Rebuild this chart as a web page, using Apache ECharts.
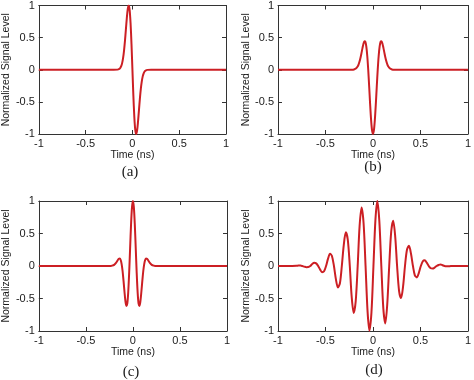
<!DOCTYPE html>
<html>
<head>
<meta charset="utf-8">
<script src="https://cdn.jsdelivr.net/npm/echarts@6/dist/echarts.min.js"></script>
<style>
html,body{margin:0;padding:0;background:#fff;}
#chart{width:474px;height:380px;}
</style>
</head>
<body>
<div id="chart"></div>
<script>
// ---- Data ----
const axisTicks = [-1, -0.5, 0, 0.5, 1];
const xTitle = 'Time (ns)';
const yTitle = 'Normalized Signal Level';
const captions = ['(a)', '(b)', '(c)', '(d)'];

// (a) monocycle
const timeA = [-1, -0.5, -0.2, -0.16, -0.14, -0.13, -0.12, -0.11, -0.10, -0.09, -0.08, -0.07, -0.06, -0.05, -0.04, -0.03, -0.02, -0.01,
  0, 0.01, 0.02, 0.03, 0.04, 0.05, 0.06, 0.07, 0.08, 0.09, 0.10, 0.11, 0.12, 0.13, 0.14, 0.16, 0.2, 0.5, 1];
const signalA = [0, 0, 0, 0.002, 0.013, 0.027, 0.055, 0.103, 0.181, 0.295, 0.446, 0.624, 0.803, 0.944, 1, 0.933, 0.727, 0.400,
  0, -0.400, -0.727, -0.933, -1, -0.944, -0.803, -0.624, -0.446, -0.295, -0.181, -0.103, -0.055, -0.027, -0.013, -0.002, 0, 0, 0];

// (b) doublet
const timeB = [-1, -0.5, -0.22, -0.20, -0.18, -0.16, -0.15, -0.14, -0.13, -0.12, -0.11, -0.10, -0.09, -0.08, -0.07, -0.06, -0.05, -0.04, -0.03, -0.02, -0.01,
  0, 0.01, 0.02, 0.03, 0.04, 0.05, 0.06, 0.07, 0.08, 0.09, 0.10, 0.11, 0.12, 0.13, 0.14, 0.15, 0.16, 0.18, 0.20, 0.22, 0.5, 1];
const signalB = [0, 0, 0.001, 0.005, 0.018, 0.055, 0.089, 0.136, 0.196, 0.267, 0.341, 0.406, 0.443, 0.434, 0.360, 0.214, 0, -0.261, -0.535, -0.775, -0.941,
  -1, -0.941, -0.775, -0.535, -0.261, 0, 0.214, 0.360, 0.434, 0.443, 0.406, 0.341, 0.267, 0.196, 0.136, 0.089, 0.055, 0.018, 0.005, 0.001, 0, 0];

// (c) higher-order pulse
const timeC = [-1, -0.5, -0.26, -0.24, -0.22, -0.20, -0.18, -0.16, -0.15, -0.14, -0.13, -0.12, -0.11, -0.10, -0.09, -0.08, -0.07, -0.06, -0.05, -0.04, -0.03, -0.02, -0.01,
  0, 0.01, 0.02, 0.03, 0.04, 0.05, 0.06, 0.07, 0.08, 0.09, 0.10, 0.11, 0.12, 0.13, 0.14, 0.15, 0.16, 0.18, 0.20, 0.22, 0.24, 0.26, 0.5, 1];
const signalC = [0, 0, 0.0004, 0.0015, 0.0055, 0.018, 0.048, 0.093, 0.111, 0.115, 0.092, 0.030, -0.077, -0.226, -0.392, -0.538, -0.615, -0.579, -0.404, -0.104, 0.270, 0.636, 0.902,
  1, 0.902, 0.636, 0.270, -0.104, -0.404, -0.579, -0.615, -0.538, -0.392, -0.226, -0.077, 0.030, 0.092, 0.115, 0.111, 0.093, 0.048, 0.018, 0.0055, 0.0015, 0.0004, 0, 0];

// (d) modulated burst
const timeD = [-1, -0.9, -0.85, -0.806, -0.785, -0.764, -0.744, -0.723, -0.702, -0.681, -0.660, -0.640, -0.619, -0.598, -0.577, -0.556, -0.536, -0.515, -0.494,
  -0.473, -0.452, -0.432, -0.411, -0.390, -0.369, -0.348, -0.328, -0.307, -0.286, -0.265, -0.244, -0.224, -0.203, -0.182, -0.161,
  -0.141, -0.120, -0.099, -0.078, -0.057, -0.037, -0.016, 0.005, 0.026, 0.046, 0.067, 0.088, 0.109, 0.130, 0.150, 0.171,
  0.192, 0.213, 0.234, 0.254, 0.275, 0.296, 0.317, 0.337, 0.358, 0.379, 0.400, 0.421, 0.441, 0.462, 0.483, 0.504,
  0.525, 0.545, 0.566, 0.587, 0.608, 0.629, 0.649, 0.670, 0.691, 0.712, 0.733, 0.753, 0.774, 0.795, 0.82, 0.85, 0.9, 1];
const signalD = [0, 0, 0, 0.002, 0.008, 0.007, 0, -0.010, -0.018, -0.016, 0, 0.030, 0.050, 0.040, 0, -0.056, -0.095, -0.081, 0,
  0.114, 0.189, 0.154, 0, -0.205, -0.331, -0.265, 0, 0.330, 0.518, 0.403, 0, -0.475, -0.723, -0.546, 0,
  0.609, 0.901, 0.662, 0, -0.698, -0.995, -0.716, 0, 0.713, 1, 0.691, 0, -0.651, -0.883, -0.596, 0,
  0.530, 0.698, 0.457, 0, -0.385, -0.493, -0.314, 0, 0.250, 0.311, 0.192, 0, -0.144, -0.175, -0.105, 0,
  0.074, 0.088, 0.051, 0, -0.035, -0.040, -0.024, 0, 0.016, 0.025, 0.012, 0, -0.005, -0.005, 0, 0, 0, 0];

// ---- Layout ----
const grids = [
  {left: 35, top: 5, width: 191, height: 129},
  {left: 278, top: 5, width: 190, height: 129},
  {left: 35, top: 201, width: 192, height: 130},
  {left: 278, top: 201, width: 192, height: 130}
];
const captionPos = [[130, 172], [373, 167], [131, 372], [374, 370]];
const seriesTimes = [timeA, timeB, timeC, timeD];
const seriesValues = [signalA, signalB, signalC, signalD];

const frameColor = '#333';
const textColor = '#1a1a1a';
const sans = '"Liberation Sans", Arial, sans-serif';

const xAxes = [], yAxes = [], series = [];
grids.forEach((g, i) => {
  const base = {
    type: 'value', gridIndex: i, min: axisTicks[0], max: axisTicks[axisTicks.length - 1], interval: 0.5,
    axisLine: {show: true, onZero: false, lineStyle: {color: frameColor, width: 1}},
    axisTick: {show: true, inside: true, length: 4, lineStyle: {color: frameColor}},
    splitLine: {show: false}
  };
  xAxes.push(Object.assign({}, base, {
    position: 'bottom',
    axisLabel: {show: true, color: textColor, fontSize: 11, fontFamily: sans, margin: 4},
    name: xTitle, nameLocation: 'middle', nameGap: 13,
    nameTextStyle: {color: textColor, fontSize: 10.5, fontFamily: sans}
  }));
  xAxes.push(Object.assign({}, base, {position: 'top', axisLabel: {show: false}}));
  yAxes.push(Object.assign({}, base, {
    position: 'left',
    axisLabel: {show: true, color: textColor, fontSize: 11, fontFamily: sans, margin: 4},
    name: yTitle, nameLocation: 'middle', nameGap: 18,
    nameTextStyle: {color: textColor, fontSize: 10.5, fontFamily: sans}
  }));
  yAxes.push(Object.assign({}, base, {position: 'right', axisLabel: {show: false}}));
  const t = seriesTimes[i], v = seriesValues[i];
  series.push({
    type: 'line', xAxisIndex: 2 * i, yAxisIndex: 2 * i,
    data: t.map((x, k) => [x, v[k]]),
    showSymbol: false, symbol: 'none', clip: true,
    smooth: 0.3,
    lineStyle: {color: '#cc1f24', width: 2},
    animation: false
  });
});

const chart = echarts.init(document.getElementById('chart'), null, {renderer: 'canvas'});
chart.setOption({
  animation: false,
  backgroundColor: '#fff',
  grid: grids,
  xAxis: xAxes,
  yAxis: yAxes,
  series: series,
  graphic: captions.map((c, i) => ({
    type: 'text', x: captionPos[i][0], y: captionPos[i][1],
    style: {text: c, fill: textColor, font: '15px "Liberation Serif", "Times New Roman", serif',
      align: 'center', verticalAlign: 'middle'}
  }))
});
</script>
</body>
</html>
